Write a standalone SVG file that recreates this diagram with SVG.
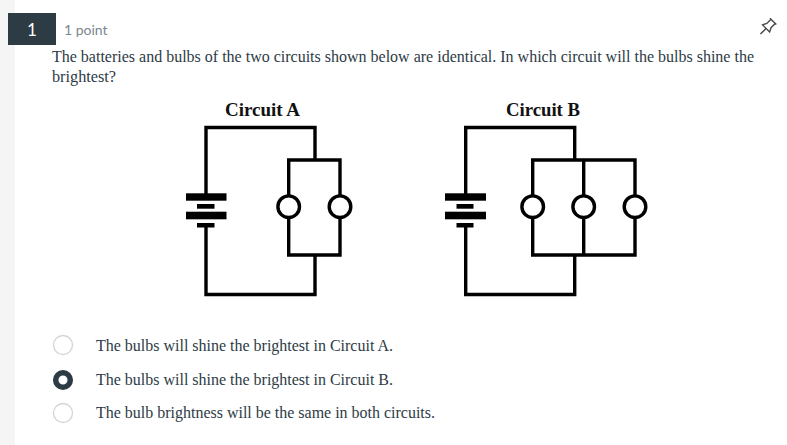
<svg xmlns="http://www.w3.org/2000/svg" width="787" height="445" viewBox="0 0 787 445">
<style>
.q{font-family:"Liberation Serif","Times New Roman",serif;font-size:16px;fill:#2d3b45}
.t{font-family:"Liberation Serif","Times New Roman",serif;font-size:18.500px;font-weight:bold;fill:#111}
.w{fill:none;stroke:#000;stroke-width:3.4}
.b{fill:#fff;stroke:#000;stroke-width:3.4}
.r{fill:#fff;stroke:#d3d6d8;stroke-width:1.3}
</style>
<rect width="787" height="445" fill="#fff"/>
<rect width="15" height="445" fill="#f5f5f5"/>
<g id="header">
<rect x="8" y="13" width="48" height="32" fill="#2d3b45"/>
<text x="32" y="36" font-family="Lato,sans-serif" font-size="17" fill="#fff" text-anchor="middle">1</text>
<text x="64" y="35" font-family="Lato,sans-serif" font-size="14" fill="#7b868e">1 point</text>
<g id="pin" transform="translate(767.500 27) rotate(45)" fill="none" stroke="#45494d" stroke-width="1.400">
<path d="M-4.500 -8H4.500M-3 -8V-2L-5 2H5L3 -2V-8M0 2V10"/>
</g>
</g>
<g id="question">
<text class="q" x="52" y="62" textLength="702" lengthAdjust="spacingAndGlyphs">The batteries and bulbs of the two circuits shown below are identical. In which circuit will the bulbs shine the</text>
<text class="q" x="52" y="82" textLength="64" lengthAdjust="spacingAndGlyphs">brightest?</text>
</g>
<g id="connectors">
<path class="w" d="M206 197V127.500H315V160M206 225V294.500H315V255M288.700 160H340V255H288.700Z"/>
<path class="w" d="M465.700 197V127.500H574.700V160M465.700 225V294.500H574.700V255M532.700 160H635V255H532.700ZM583.700 160V255"/>
</g>
<g id="circuit-a">
<text class="t" x="225" y="116" textLength="75" lengthAdjust="spacingAndGlyphs">Circuit A</text>
<g id="battery-a" fill="#000">
<rect x="186" y="193.300" width="40.500" height="7.400"/><rect x="197" y="204" width="17.500" height="4.700"/>
<rect x="186" y="211.700" width="40.500" height="7.600"/><rect x="197" y="223" width="17.500" height="4.500"/>
</g>
<circle class="b" cx="288.700" cy="206.700" r="10.800"/>
<circle class="b" cx="340" cy="206.700" r="10.800"/>
</g>
<g id="circuit-b">
<text class="t" x="506" y="116" textLength="74" lengthAdjust="spacingAndGlyphs">Circuit B</text>
<g id="battery-b" fill="#000">
<rect x="445" y="193.300" width="41" height="7.400"/><rect x="456.500" y="204" width="17" height="4.700"/>
<rect x="445" y="211.700" width="41" height="7.600"/><rect x="456.500" y="223" width="17" height="4.500"/>
</g>
<circle class="b" cx="532.700" cy="206.700" r="10.800"/>
<circle class="b" cx="583.700" cy="206.700" r="10.800"/>
<circle class="b" cx="635" cy="206.700" r="10.800"/>
</g>
<g id="option-1">
<circle class="r" cx="63" cy="345" r="9.500"/>
<text class="q" x="96" y="351" textLength="297" lengthAdjust="spacingAndGlyphs">The bulbs will shine the brightest in Circuit A.</text>
</g>
<g id="option-2">
<circle cx="63" cy="380" r="7.300" fill="#fff" stroke="#2d3b45" stroke-width="5.500"/>
<text class="q" x="96" y="385" textLength="297" lengthAdjust="spacingAndGlyphs">The bulbs will shine the brightest in Circuit B.</text>
</g>
<g id="option-3">
<circle class="r" cx="63" cy="413" r="9.500"/>
<text class="q" x="96" y="418" textLength="339" lengthAdjust="spacingAndGlyphs">The bulb brightness will be the same in both circuits.</text>
</g>
</svg>
